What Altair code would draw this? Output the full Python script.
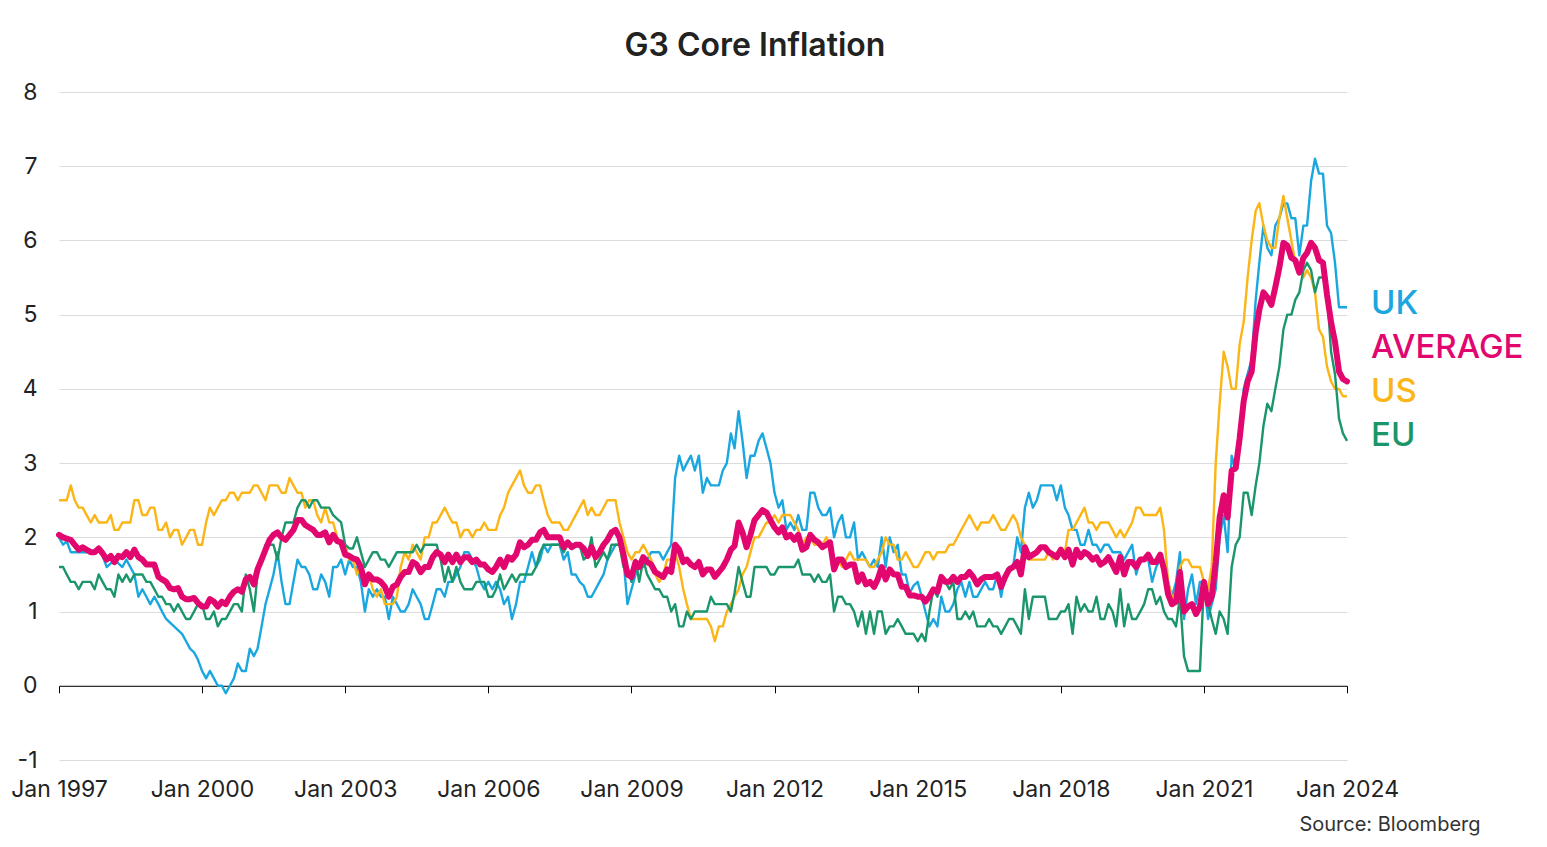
import altair as alt
import pandas as pd

FONT = "Inter"
SERIES = ["UK", "AVERAGE", "US", "EU"]
COLORS = ["#1aa7df", "#e2076f", "#fbb516", "#1b966a"]
TICK_YEARS = [1997, 2000, 2003, 2006, 2009, 2012, 2015, 2018, 2021, 2024]
Y_TICKS = [-1, 0, 1, 2, 3, 4, 5, 6, 7, 8]

UK_BY_YEAR = [
    [2.0, 1.9, 1.95, 1.8, 1.8, 1.8, 1.8, 1.8, 1.8, 1.8, 1.85, 1.75],
    [1.6, 1.65, 1.7, 1.65, 1.6, 1.7, 1.6, 1.5, 1.2, 1.3, 1.2, 1.1],
    [1.2, 1.1, 1.0, 0.9, 0.85, 0.8, 0.75, 0.7, 0.6, 0.5, 0.45, 0.35],
    [0.2, 0.1, 0.2, 0.1, 0.0, 0.0, -0.1, 0.0, 0.1, 0.3, 0.2, 0.2],
    [0.5, 0.4, 0.5, 0.8, 1.1, 1.3, 1.5, 1.8, 1.4, 1.1, 1.1, 1.4],
    [1.7, 1.6, 1.6, 1.5, 1.3, 1.3, 1.5, 1.4, 1.2, 1.6, 1.6, 1.7],
    [1.5, 1.7, 1.6, 1.6, 1.4, 1.0, 1.3, 1.2, 1.3, 1.2, 1.2, 0.9],
    [1.2, 1.1, 1.0, 1.0, 1.1, 1.3, 1.2, 1.1, 0.9, 0.9, 1.1, 1.3],
    [1.3, 1.2, 1.4, 1.4, 1.5, 1.6, 1.8, 1.8, 1.7, 1.6, 1.4, 1.3],
    [1.4, 1.3, 1.4, 1.3, 1.1, 1.2, 0.9, 1.1, 1.4, 1.4, 1.6, 1.8],
    [1.6, 1.7, 1.9, 1.8, 1.9, 1.9, 1.9, 1.7, 1.8, 1.5, 1.5, 1.4],
    [1.35, 1.2, 1.2, 1.3, 1.4, 1.5, 1.7, 1.8, 1.9, 1.9, 1.7, 1.1],
    [1.3, 1.5, 1.6, 1.6, 1.7, 1.8, 1.8, 1.8, 1.7, 1.8, 1.9, 2.8],
    [3.1, 2.9, 3.0, 3.1, 2.9, 3.1, 2.6, 2.8, 2.7, 2.7, 2.7, 2.9],
    [3.0, 3.4, 3.2, 3.7, 3.3, 2.8, 3.1, 3.1, 3.3, 3.4, 3.2, 3.0],
    [2.6, 2.4, 2.5, 2.1, 2.2, 2.1, 2.3, 2.1, 2.1, 2.6, 2.6, 2.4],
    [2.3, 2.3, 2.4, 2.0, 2.2, 2.3, 2.0, 2.0, 2.2, 1.7, 1.8, 1.7],
    [1.6, 1.7, 1.6, 2.0, 1.6, 2.0, 1.8, 1.9, 1.5, 1.5, 1.25, 1.35],
    [1.4, 1.2, 1.0, 0.8, 0.9, 0.8, 1.2, 1.0, 1.0, 1.1, 1.3, 1.4],
    [1.2, 1.4, 1.2, 1.2, 1.3, 1.4, 1.3, 1.3, 1.5, 1.2, 1.5, 1.6],
    [1.6, 2.0, 1.8, 2.4, 2.6, 2.4, 2.5, 2.7, 2.7, 2.7, 2.7, 2.5],
    [2.7, 2.4, 2.3, 2.1, 2.1, 1.9, 1.9, 2.1, 1.9, 1.9, 1.8, 1.9],
    [1.9, 1.8, 1.8, 1.8, 1.7, 1.8, 1.9, 1.5, 1.7, 1.7, 1.7, 1.4],
    [1.6, 1.7, 1.6, 1.4, 1.2, 1.4, 1.8, 0.9, 1.3, 1.5, 1.1, 1.4],
    [1.4, 0.9, 1.1, 1.3, 2.0, 2.3, 1.8, 3.1, 2.9, 3.4, 4.0, 4.2],
    [4.4, 5.2, 5.7, 6.2, 5.9, 5.8, 6.2, 6.3, 6.5, 6.5, 6.3, 6.3],
    [5.8, 6.2, 6.2, 6.8, 7.1, 6.9, 6.9, 6.2, 6.1, 5.7, 5.1, 5.1],
    [5.1],
]

US_BY_YEAR = [
    [2.5, 2.5, 2.5, 2.7, 2.5, 2.4, 2.4, 2.3, 2.2, 2.3, 2.2, 2.2],
    [2.2, 2.3, 2.1, 2.1, 2.2, 2.2, 2.2, 2.5, 2.5, 2.3, 2.3, 2.4],
    [2.4, 2.1, 2.1, 2.2, 2.0, 2.1, 2.1, 1.9, 2.0, 2.1, 2.1, 1.9],
    [1.9, 2.2, 2.4, 2.3, 2.4, 2.5, 2.5, 2.6, 2.6, 2.5, 2.6, 2.6],
    [2.6, 2.7, 2.7, 2.6, 2.5, 2.7, 2.7, 2.7, 2.6, 2.6, 2.8, 2.7],
    [2.6, 2.6, 2.4, 2.5, 2.5, 2.3, 2.2, 2.4, 2.2, 2.2, 2.0, 1.9],
    [1.9, 1.7, 1.7, 1.5, 1.6, 1.5, 1.5, 1.3, 1.2, 1.3, 1.1, 1.1],
    [1.1, 1.2, 1.6, 1.8, 1.7, 1.9, 1.8, 1.7, 2.0, 2.0, 2.2, 2.2],
    [2.3, 2.4, 2.3, 2.2, 2.2, 2.0, 2.1, 2.1, 2.0, 2.1, 2.1, 2.2],
    [2.1, 2.1, 2.1, 2.3, 2.4, 2.6, 2.7, 2.8, 2.9, 2.7, 2.6, 2.6],
    [2.7, 2.7, 2.5, 2.3, 2.2, 2.2, 2.2, 2.1, 2.1, 2.2, 2.3, 2.4],
    [2.5, 2.3, 2.4, 2.3, 2.3, 2.4, 2.5, 2.5, 2.5, 2.2, 2.0, 1.8],
    [1.7, 1.8, 1.8, 1.9, 1.8, 1.7, 1.5, 1.4, 1.5, 1.7, 1.7, 1.8],
    [1.6, 1.3, 1.1, 0.9, 0.9, 0.9, 0.9, 0.9, 0.8, 0.6, 0.8, 0.8],
    [1.0, 1.1, 1.2, 1.3, 1.5, 1.6, 1.8, 2.0, 2.0, 2.1, 2.2, 2.2],
    [2.3, 2.2, 2.3, 2.3, 2.3, 2.2, 2.1, 1.9, 2.0, 2.0, 1.9, 1.9],
    [1.9, 2.0, 1.9, 1.7, 1.7, 1.6, 1.7, 1.8, 1.7, 1.7, 1.7, 1.7],
    [1.6, 1.6, 1.7, 1.8, 2.0, 1.9, 1.9, 1.7, 1.7, 1.8, 1.7, 1.6],
    [1.6, 1.7, 1.8, 1.8, 1.7, 1.8, 1.8, 1.8, 1.9, 1.9, 2.0, 2.1],
    [2.2, 2.3, 2.2, 2.1, 2.2, 2.2, 2.2, 2.3, 2.2, 2.1, 2.1, 2.2],
    [2.3, 2.2, 2.0, 1.9, 1.7, 1.7, 1.7, 1.7, 1.7, 1.8, 1.7, 1.8],
    [1.8, 1.8, 2.1, 2.1, 2.2, 2.3, 2.4, 2.2, 2.2, 2.1, 2.2, 2.2],
    [2.2, 2.1, 2.0, 2.1, 2.0, 2.1, 2.2, 2.4, 2.4, 2.3, 2.3, 2.3],
    [2.3, 2.4, 2.1, 1.4, 1.2, 1.2, 1.6, 1.7, 1.7, 1.6, 1.6, 1.6],
    [1.4, 1.3, 1.6, 3.0, 3.8, 4.5, 4.3, 4.0, 4.0, 4.6, 4.9, 5.5],
    [6.0, 6.4, 6.5, 6.2, 6.0, 5.9, 5.9, 6.3, 6.6, 6.3, 6.0, 5.7],
    [5.6, 5.5, 5.6, 5.5, 5.3, 4.8, 4.7, 4.3, 4.1, 4.0, 4.0, 3.9],
    [3.9],
]

EU_BY_YEAR = [
    [1.6, 1.6, 1.5, 1.4, 1.4, 1.3, 1.4, 1.4, 1.4, 1.3, 1.5, 1.4],
    [1.3, 1.3, 1.2, 1.5, 1.4, 1.5, 1.4, 1.5, 1.5, 1.5, 1.4, 1.4],
    [1.3, 1.2, 1.2, 1.1, 1.1, 1.0, 1.1, 1.0, 0.9, 0.9, 1.0, 1.1],
    [1.1, 0.9, 0.9, 1.0, 0.8, 0.9, 0.9, 1.0, 1.1, 1.1, 1.0, 1.5],
    [1.3, 1.0, 1.5, 1.7, 1.9, 1.9, 1.9, 1.7, 2.0, 2.2, 2.2, 2.2],
    [2.4, 2.5, 2.5, 2.4, 2.5, 2.5, 2.4, 2.4, 2.4, 2.3, 2.25, 2.2],
    [1.9, 1.85, 1.85, 2.0, 1.8, 1.6, 1.7, 1.8, 1.8, 1.7, 1.7, 1.6],
    [1.7, 1.8, 1.8, 1.8, 1.8, 1.8, 1.9, 1.8, 1.9, 1.9, 1.9, 1.9],
    [1.7, 1.4, 1.6, 1.4, 1.6, 1.4, 1.3, 1.3, 1.3, 1.4, 1.4, 1.4],
    [1.2, 1.2, 1.3, 1.5, 1.3, 1.4, 1.5, 1.4, 1.5, 1.5, 1.5, 1.5],
    [1.6, 1.8, 1.9, 1.9, 1.9, 1.9, 1.9, 1.8, 1.9, 1.9, 1.9, 1.9],
    [1.7, 1.75, 2.0, 1.6, 1.7, 1.8, 1.7, 1.9, 1.9, 1.9, 1.6, 1.6],
    [1.4, 1.7, 1.4, 1.7, 1.5, 1.4, 1.3, 1.3, 1.2, 1.2, 1.0, 1.1],
    [0.8, 0.8, 1.0, 0.9, 1.0, 1.0, 1.0, 1.0, 1.2, 1.1, 1.1, 1.1],
    [1.1, 1.0, 1.25, 1.6, 1.4, 1.2, 1.2, 1.6, 1.6, 1.6, 1.6, 1.5],
    [1.5, 1.6, 1.6, 1.6, 1.6, 1.6, 1.7, 1.5, 1.5, 1.5, 1.4, 1.5],
    [1.4, 1.4, 1.5, 1.0, 1.2, 1.2, 1.1, 1.1, 1.0, 0.8, 1.0, 0.7],
    [1.0, 0.7, 1.0, 1.0, 0.7, 0.8, 0.8, 0.9, 0.8, 0.7, 0.7, 0.7],
    [0.6, 0.7, 0.6, 1.0, 1.3, 1.2, 1.4, 1.4, 1.3, 1.4, 0.9, 0.9],
    [1.0, 0.9, 1.0, 0.8, 0.8, 0.8, 0.9, 0.8, 0.8, 0.7, 0.8, 0.9],
    [0.9, 0.8, 0.7, 1.3, 0.9, 1.2, 1.2, 1.2, 1.2, 0.9, 0.9, 0.9],
    [1.0, 1.0, 1.1, 0.7, 1.2, 1.0, 1.1, 1.0, 1.0, 1.2, 0.9, 0.9],
    [1.1, 1.0, 0.8, 1.3, 0.8, 1.1, 0.9, 0.9, 1.0, 1.1, 1.3, 1.3],
    [1.1, 1.2, 1.0, 0.9, 0.9, 0.8, 1.2, 0.4, 0.2, 0.2, 0.2, 0.2],
    [1.4, 1.1, 0.9, 0.7, 1.0, 0.9, 0.7, 1.6, 1.9, 2.0, 2.6, 2.6],
    [2.3, 2.7, 3.0, 3.5, 3.8, 3.7, 4.0, 4.3, 4.8, 5.0, 5.0, 5.2],
    [5.3, 5.6, 5.7, 5.6, 5.3, 5.5, 5.5, 5.3, 4.5, 4.2, 3.6, 3.4],
    [3.3],
]

uk = [v for yr in UK_BY_YEAR for v in yr]
us = [v for yr in US_BY_YEAR for v in yr]
eu = [v for yr in EU_BY_YEAR for v in yr]
average = [round((a + b + c) / 3, 3) for a, b, c in zip(uk, us, eu)]
dates = pd.date_range("1997-01-01", periods=len(uk), freq="MS")

frames = []
for name, vals in [("UK", uk), ("US", us), ("EU", eu), ("AVERAGE", average)]:
    frames.append(pd.DataFrame({"date": dates, "series": name, "value": vals}))
df = pd.concat(frames, ignore_index=True)

HEIGHT = 668
WIDTH = 1288

x_scale = alt.Scale(domain=[alt.DateTime(year=1997, month=1, date=1),
                            alt.DateTime(year=2024, month=1, date=1)])
tick_values = [alt.DateTime(year=y, month=1, date=1) for y in TICK_YEARS]

y_enc = alt.Y(
    "value:Q",
    scale=alt.Scale(domain=[-1, 8], nice=False, zero=False),
    axis=alt.Axis(values=Y_TICKS, title=None, domain=False, ticks=False, grid=True,
                  gridColor="#dcdcdc", gridWidth=1, labelFontSize=23, labelPadding=22,
                  labelColor="#222222", labelFont=FONT, labelExpr="'' + datum.value"),
)

color_expr = " : ".join(
    [f"datum.value == '{s}' ? '{c}'" for s, c in zip(SERIES[:-1], COLORS[:-1])]
) + f" : '{COLORS[-1]}'"

legend = alt.Legend(
    title=None, orient="none", legendX=1279, legendY=195,
    symbolSize=0, symbolOpacity=0, symbolStrokeWidth=0, labelOffset=0,
    labelFontSize=33, labelFont=FONT, labelFontWeight=500, rowPadding=10,
    labelLimit=400, labelColor=alt.ExprRef(expr=color_expr),
)
color_enc = alt.Color("series:N", scale=alt.Scale(domain=SERIES, range=COLORS), legend=legend)

thin = alt.Chart(df).transform_filter(alt.datum.series != "AVERAGE").mark_line(
    strokeWidth=2.4, strokeJoin="round"
).encode(
    x=alt.X("date:T", scale=x_scale,
            axis=alt.Axis(orient="bottom", values=tick_values, format="%b %Y", formatType="time",
                          labelFontSize=23, labelFont=FONT, labelColor="#222222", labelPadding=18,
                          labelFlush=False, labelOverlap=False, domain=False, ticks=False, grid=False,
                          title="Source: Bloomberg", titleX=1421, titleY=64, titleAlign="right",
                          titleBaseline="middle", titleFontSize=20, titleFont=FONT,
                          titleFontWeight="normal", titleColor="#333333")),
    y=y_enc,
    color=color_enc,
    detail="series:N",
)

avg = alt.Chart(df).transform_filter(alt.datum.series == "AVERAGE").mark_line(
    strokeWidth=6, strokeJoin="round", strokeCap="round"
).encode(
    x=alt.X("date:T", scale=x_scale,
            axis=alt.Axis(orient="bottom", values=tick_values, labels=False, ticks=True, tickSize=7,
                          tickColor="#000000", tickWidth=1, domain=True, domainColor="#000000",
                          domainWidth=1, grid=False, offset=-HEIGHT / 9, title=None)),
    y=y_enc,
    color=color_enc,
)

chart = alt.layer(thin, avg).resolve_axis(x="independent").properties(
    width=WIDTH,
    height=HEIGHT,
    autosize=alt.AutoSizeParams(type="none"),
    padding={"left": 59, "top": 92, "right": 200, "bottom": 87},
    title=alt.TitleParams("G3 Core Inflation", fontSize=32, font=FONT, fontWeight=600,
                          color="#222222", anchor="middle", frame="group", dx=52, dy=44,
                          offset=37, baseline="alphabetic"),
).configure(background="white").configure_view(stroke=None)

chart.save("out.html", embed_options={"renderer": "svg", "actions": False})
